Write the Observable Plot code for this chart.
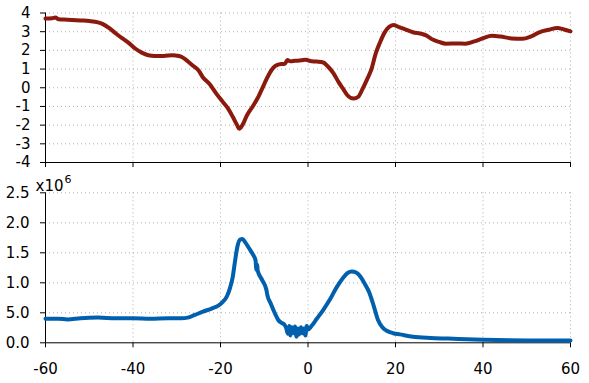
<!DOCTYPE html>
<html>
<head>
<meta charset="utf-8">
<script src="https://cdn.jsdelivr.net/npm/d3@7"></script>
<script src="https://cdn.jsdelivr.net/npm/@observablehq/plot@0.6"></script>
<style>
  body { margin: 0; background: white; }
  #chart { width: 589px; height: 383px; position: relative; }
  #chart svg { display: block; }
</style>
</head>
<body>
<div id="chart"></div>
<script>
// ---- data ----
const xTicks = [-60, -40, -20, 0, 20, 40, 60];
const xTickLabels = ["-60", "-40", "-20", "0", "20", "40", "60"];
const topYTicks = [-4, -3, -2, -1, 0, 1, 2, 3, 4];
const topYTickLabels = ["-4", "-3", "-2", "-1", "0", "1", "2", "3", "4"];
const bottomYTicks = [0, 0.5, 1, 1.5, 2, 2.5];
const bottomYTickLabels = ["0.0", "5.0", "1.0", "1.5", "2.0", "2.5"];
const bottomScaleLabel = "x10";
const bottomScaleExp = "6";

const topX = [-60, -58.5, -57.7, -57, -55, -52, -50, -48, -47, -45.5, -44, -42.5, -41, -39.5, -38, -36.5, -35, -33, -31, -29.5, -28.5, -27.5, -26.5, -25, -24, -22.5, -21, -19.5, -18.3, -17.2, -16.2, -15.7, -15, -14, -12.5, -11.5, -10, -9, -8, -7, -6, -5.3, -4.7, -4, -3, -1.5, -0.5, 0.5, 2, 3.5, 4.5, 5.8, 7, 8, 9, 10.4, 11.5, 12.5, 13.5, 14.5, 15.5, 16.5, 17.5, 18.5, 19.5, 20.8, 22.5, 24, 26, 27, 28.5, 30, 31.5, 34, 36, 38, 40, 42, 44, 46.5, 49, 51, 53, 55, 57, 58.5, 60];
const topY = [3.70, 3.72, 3.76, 3.66, 3.64, 3.60, 3.57, 3.50, 3.42, 3.20, 2.92, 2.65, 2.40, 2.10, 1.88, 1.74, 1.70, 1.70, 1.74, 1.70, 1.60, 1.42, 1.22, 0.92, 0.55, 0.20, -0.30, -0.75, -1.10, -1.55, -2.00, -2.20, -2.00, -1.50, -0.95, -0.55, 0.20, 0.68, 1.05, 1.22, 1.27, 1.28, 1.48, 1.42, 1.44, 1.47, 1.50, 1.43, 1.40, 1.35, 1.15, 0.78, 0.30, -0.05, -0.40, -0.58, -0.48, -0.05, 0.45, 1.00, 1.85, 2.45, 2.95, 3.25, 3.36, 3.25, 3.10, 2.97, 2.88, 2.80, 2.58, 2.45, 2.36, 2.37, 2.36, 2.48, 2.65, 2.78, 2.74, 2.64, 2.62, 2.75, 2.98, 3.10, 3.20, 3.12, 3.02];

const bottomX = [-60, -57, -55, -52, -48, -44, -40, -36, -32, -29, -27.5, -26, -24, -22, -20.5, -19.5, -18.5, -17.8, -17.2, -16.7, -16.2, -15.5, -15, -14.3, -13.5, -12.5, -12, -11.8, -11.6, -11.5, -10.5, -9.5, -9.3, -8.5, -7.5, -6.8, -6, -5.5, -5, -4.6, -4.3, -4, -3.7, -3.3, -3, -2.6, -2.3, -2, -1.6, -1.3, -1, -0.6, -0.3, 0, 0.8, 2, 3.5, 5, 6.5, 8, 9, 10, 11, 12, 13, 14, 15, 16, 17, 18, 19.5, 21, 24, 28, 32, 40, 50, 60];
const bottomY = [0.40, 0.40, 0.39, 0.41, 0.42, 0.41, 0.41, 0.40, 0.41, 0.41, 0.42, 0.46, 0.52, 0.57, 0.62, 0.68, 0.78, 0.92, 1.10, 1.35, 1.58, 1.72, 1.73, 1.67, 1.58, 1.46, 1.38, 1.22, 1.30, 1.20, 1.05, 0.88, 0.80, 0.65, 0.48, 0.38, 0.33, 0.31, 0.25, 0.15, 0.28, 0.12, 0.26, 0.16, 0.27, 0.10, 0.24, 0.14, 0.26, 0.16, 0.24, 0.12, 0.28, 0.22, 0.28, 0.40, 0.55, 0.72, 0.92, 1.08, 1.16, 1.19, 1.17, 1.10, 0.98, 0.84, 0.62, 0.38, 0.26, 0.20, 0.16, 0.14, 0.10, 0.08, 0.07, 0.05, 0.04, 0.04];

const topData = topX.map((x, i) => ({x, y: topY[i]}));
const bottomData = bottomX.map((x, i) => ({x, y: bottomY[i]}));

const gridStyle = {stroke: "#b0b0b0", strokeDasharray: "1,3", strokeWidth: 1};
const font = {fontFamily: "DejaVu Sans", fontSize: "15px", background: "white", color: "black", overflow: "visible"};

const topChart = Plot.plot({
  width: 589, height: 170,
  marginLeft: 45, marginRight: 19, marginTop: 12.5, marginBottom: 8,
  style: font,
  x: {domain: [-60, 60]},
  y: {domain: [-4, 4]},
  marks: [
    Plot.ruleX(xTicks.filter(t => t > -60), gridStyle),
    Plot.ruleY(topYTicks.filter(t => t > -4), gridStyle),
    Plot.axisY(topYTicks, {tickSize: 5, tickPadding: 10, label: null,
      tickFormat: d => topYTickLabels[topYTicks.indexOf(d)]}),
    Plot.axisX(xTicks, {tickSize: 5, label: null, tickFormat: () => ""}),
    Plot.ruleX([-60], {stroke: "black"}),
    Plot.ruleY([-4], {stroke: "black"}),
    Plot.line(topData, {x: "x", y: "y", stroke: "#8b1a0e", strokeWidth: 4, curve: "monotone-x"})
  ]
});

const bottomChart = Plot.plot({
  width: 589, height: 213,
  marginLeft: 45, marginRight: 19, marginTop: 22.3, marginBottom: 40.7,
  style: font,
  x: {domain: [-60, 60]},
  y: {domain: [0, 2.5]},
  marks: [
    Plot.ruleX(xTicks.filter(t => t > -60), gridStyle),
    Plot.ruleY(bottomYTicks.filter(t => t > 0), gridStyle),
    Plot.axisY(bottomYTicks, {tickSize: 5, tickPadding: 11, label: null,
      tickFormat: d => bottomYTickLabels[bottomYTicks.indexOf(d)]}),
    Plot.axisX(xTicks, {tickSize: 5, tickPadding: 16, label: null,
      tickFormat: d => xTickLabels[xTicks.indexOf(d)]}),
    Plot.ruleX([-60], {stroke: "black"}),
    Plot.ruleY([0], {stroke: "black"}),
    Plot.line(bottomData, {x: "x", y: "y", stroke: "#0060ad", strokeWidth: 4, curve: "monotone-x"}),
    Plot.text([bottomScaleLabel], {frameAnchor: "top-left", text: d => d, textAnchor: "start",
      dx: -10, dy: -12, fontSize: 15}),
    Plot.text([bottomScaleExp], {frameAnchor: "top-left", text: d => d, textAnchor: "start",
      dx: 19, dy: -18, fontSize: 11})
  ]
});

const chart = document.getElementById("chart");
chart.appendChild(topChart);
chart.appendChild(bottomChart);
</script>
</body>
</html>
